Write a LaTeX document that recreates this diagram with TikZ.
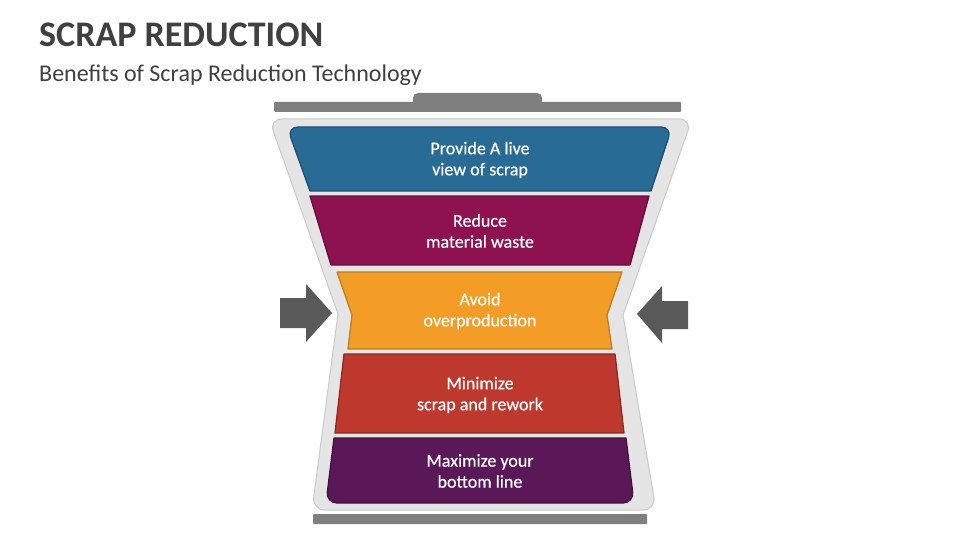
\documentclass[tikz,border=0pt]{standalone}
\usepackage{fontspec}
\setmainfont{Carlito}
\newfontfamily\bandfont[FakeBold=0.5]{Carlito}
\usetikzlibrary{positioning}
\definecolor{barGray}{HTML}{7F7F7F}
\definecolor{arrowGray}{HTML}{595959}
\definecolor{bodyFill}{HTML}{E5E5E5}
\definecolor{bodyLine}{HTML}{C9C9C9}
\definecolor{provideBlue}{HTML}{286C96}
\definecolor{reduceRed}{HTML}{8E1150}
\definecolor{avoidOrange}{HTML}{F39C26}
\definecolor{minimizeRed}{HTML}{BE382D}
\definecolor{maximizePurple}{HTML}{5A1858}
\tikzset{
	band/.style={line width=1.3pt, line join=round},
	bandtext/.style={text=white, align=center, font=\bandfont\fontsize{18}{21}\selectfont},
	pressarrow/.style={fill=arrowGray, draw=none}
}

\begin{document}
\begin{tikzpicture}[x=1pt, y=-1pt]
	\useasboundingbox (0, 0) rectangle (960, 540);
	\fill[white] (0, 0) rectangle (960, 540);

	\node[anchor=west, inner sep=0pt, text=black!75, font=\fontsize{36}{40}\selectfont\bfseries] (title) at (39, 35) {SCRAP REDUCTION};
	\node[anchor=west, inner sep=0pt, text=black!75, font=\fontsize{24}{28}\selectfont] (subtitle) at (39, 75) {Benefits of Scrap Reduction Technology};

	% lid and base
	\fill[barGray, rounded corners=1pt] (274, 102) rectangle (681, 112);
	\fill[barGray] (413, 102) [rounded corners=5pt] -- (413, 93) -- (542, 93) [sharp corners] -- (542, 102) -- cycle;
	\fill[barGray, rounded corners=1pt] (313, 514) rectangle (647, 524);

	% body
	\draw[fill=bodyFill, draw=bodyLine, line width=1pt] (338, 314) [rounded corners=13pt] -- (269, 119) -- (692, 119) [sharp corners] -- (623, 315) [rounded corners=13pt] -- (656, 510) -- (312, 510) [sharp corners] -- cycle;

	% bands
	\draw[band, fill=provideBlue, draw=provideBlue!75!black] (310, 191) [rounded corners=11pt] -- (287, 127) -- (672, 127) [sharp corners] -- (651, 191) -- cycle;
	\draw[band, fill=reduceRed, draw=reduceRed!75!black] (310, 196) -- (649, 196) -- (630, 265) -- (331, 265) -- cycle;
	\draw[band, fill=avoidOrange, draw=avoidOrange!80!black] (337, 272) -- (622, 272) -- (607, 315) -- (612, 349) -- (348, 349) -- (352, 315) -- cycle;
	\draw[band, fill=minimizeRed, draw=minimizeRed!75!black] (344, 354) -- (615, 354) -- (624, 433) -- (335, 433) -- cycle;
	\draw[band, fill=maximizePurple, draw=maximizePurple!75!black] (626, 438) [rounded corners=11pt] -- (634, 503) -- (326, 503) [sharp corners] -- (334, 438) -- cycle;

	\node[bandtext] (provide) at (480, 160) {Provide A live\\view of scrap};
	\node[bandtext] (reduce) at (480, 231) {Reduce\\material waste};
	\node[bandtext] (avoid) at (480, 311) {Avoid\\overproduction};
	\node[bandtext] (minimize) at (480, 395) {Minimize\\scrap and rework};
	\node[bandtext] (maximize) at (480, 471) {Maximize your\\bottom line};

	% arrows
	\fill[pressarrow] (280, 298) -- (306, 298) -- (306, 284) -- (332, 313) -- (306, 342) -- (306, 328) -- (280, 328) -- cycle;
	\fill[pressarrow] (688, 301) -- (662, 301) -- (662, 286) -- (637, 314) -- (662, 343) -- (662, 329) -- (688, 329) -- cycle;
\end{tikzpicture}
\end{document}
